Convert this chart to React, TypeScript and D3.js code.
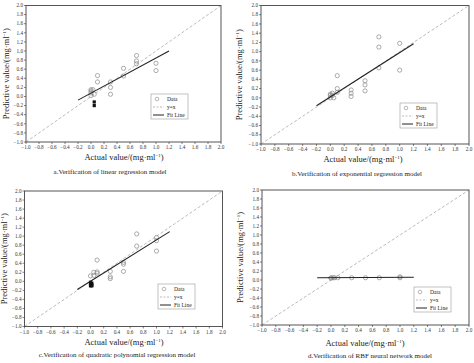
import React from "react";
import * as d3 from "d3";

// ---- data ----
const tickValues = [-1.0, -0.8, -0.6, -0.4, -0.2, 0.0, 0.2, 0.4, 0.6, 0.8, 1.0, 1.2, 1.4, 1.6, 1.8, 2.0];

const aActual = [0.0, 0.0, 0.0, 0.0, 0.03, 0.05, 0.1, 0.1, 0.3, 0.3, 0.3, 0.5, 0.5, 0.7, 0.7, 0.7, 1.0, 1.0];
const aPredicted = [0.15, 0.12, 0.08, 0.02, 0.15, 0.05, 0.46, 0.32, 0.32, 0.2, 0.05, 0.62, 0.45, 0.9, 0.78, 0.72, 0.73, 0.57];
const aFilledActual = [0.05, 0.05];
const aFilledPredicted = [-0.12, -0.2];
const aFit = [[-0.2, -0.08], [1.2, 1.0]];

const bActual = [0.0, 0.0, 0.0, 0.03, 0.03, 0.05, 0.1, 0.1, 0.1, 0.3, 0.3, 0.3, 0.5, 0.5, 0.5, 0.7, 0.7, 0.7, 1.0, 1.0];
const bPredicted = [0.05, 0.0, 0.08, 0.1, 0.05, 0.0, 0.48, 0.2, 0.12, 0.17, 0.1, 0.03, 0.37, 0.28, 0.15, 1.32, 1.1, 0.65, 1.18, 0.6];
const bFilledActual: number[] = [];
const bFilledPredicted: number[] = [];
const bFit = [[-0.2, -0.17], [1.2, 1.17]];

const cActual = [0.0, 0.05, 0.05, 0.1, 0.1, 0.1, 0.3, 0.3, 0.3, 0.5, 0.5, 0.5, 0.7, 0.7, 1.0, 1.0, 1.0];
const cPredicted = [0.12, 0.2, 0.13, 0.47, 0.21, 0.18, 0.22, 0.1, 0.06, 0.42, 0.38, 0.22, 1.05, 0.78, 0.97, 0.9, 0.67];
const cFilledActual = [0.0, 0.02, 0.0, 0.02, 0.0, 0.02];
const cFilledPredicted = [-0.02, -0.04, -0.06, -0.08, -0.1, -0.1];
const cFit = [[-0.2, -0.18], [1.2, 1.1]];

const dActual = [0.0, 0.0, 0.03, 0.05, 0.1, 0.3, 0.5, 0.7, 1.0, 1.0];
const dPredicted = [0.05, 0.04, 0.05, 0.05, 0.05, 0.05, 0.05, 0.05, 0.07, 0.05];
const dFilledActual: number[] = [];
const dFilledPredicted: number[] = [];
const dFit = [[-0.2, 0.05], [1.2, 0.06]];

const captions = [
  "a.Verification of linear regression model",
  "b.Verification of exponential regression model",
  "c.Verification of quadratic polynomial regression model",
  "d.Verification of RBF neural network model",
];
const legendLabels = ["Data", "y=x", "Fit Line"];

// ---- layout ----
const layouts = [
  { l: 26, t: 5.5, r: 221, b: 142, xl: 124, xlY: 160, cap: 110, capY: 174, ylX: 9, lgX: 151, lgY: 94 },
  { l: 261, t: 5.5, r: 469, b: 144, xl: 363, xlY: 162, cap: 357, capY: 176, ylX: 242, lgX: 400, lgY: 103 },
  { l: 24.5, t: 191, r: 222.5, b: 326.5, xl: 124, xlY: 345, cap: 117, capY: 357, ylX: 7, lgX: 158, lgY: 284 },
  { l: 262, t: 190, r: 469, b: 325, xl: 365, xlY: 346, cap: 370, capY: 358, ylX: 243, lgX: 414, lgY: 287 },
];

const FONT = "'Liberation Serif', 'DejaVu Serif', serif";

type PanelProps = {
  idx: number;
  xs: number[];
  ys: number[];
  fxs: number[];
  fys: number[];
  fit: number[][];
};

function Panel({ idx, xs, ys, fxs, fys, fit }: PanelProps) {
  const L = layouts[idx];
  const x = d3.scaleLinear().domain([-1, 2]).range([L.l, L.r]);
  const y = d3.scaleLinear().domain([-1, 2]).range([L.b, L.t]);
  const line = d3.line<number[]>().x((d) => x(d[0])).y((d) => y(d[1]));
  const fmt = d3.format(".1f");
  const yMid = (L.t + L.b) / 2;
  return (
    <g>
      {/* y=x */}
      <path d={line([[-1, -1], [2, 2]]) || ""} stroke="#aaa" strokeWidth={0.8} strokeDasharray="3,2" fill="none" />
      {/* frame */}
      <rect x={L.l} y={L.t} width={L.r - L.l} height={L.b - L.t} fill="none" stroke="#555" strokeWidth={1} />
      {/* ticks */}
      {tickValues.map((v) => (
        <g key={"x" + v}>
          <line x1={x(v)} x2={x(v)} y1={L.b} y2={L.b + 2} stroke="#333" strokeWidth={0.6} />
          <text x={x(v)} y={L.b + 7} fontSize={5.2} textAnchor="middle" fontFamily={FONT} fill="#333">
            {fmt(v).replace("-", "−")}
          </text>
        </g>
      ))}
      {tickValues.map((v) => (
        <g key={"y" + v}>
          <line x1={L.l - 2} x2={L.l} y1={y(v)} y2={y(v)} stroke="#333" strokeWidth={0.6} />
          <text x={L.l - 3} y={y(v) + 1.7} fontSize={5.2} textAnchor="end" fontFamily={FONT} fill="#333">
            {fmt(v).replace("-", "−")}
          </text>
        </g>
      ))}
      {/* data circles */}
      {xs.map((v, i) => (
        <circle key={"c" + i} cx={x(v)} cy={y(ys[i])} r={2.1} fill="none" stroke="#888" strokeWidth={0.7} />
      ))}
      {fxs.map((v, i) => (
        <rect key={"f" + i} x={x(v) - 1.6} y={y(fys[i]) - 1.6} width={3.2} height={3.2} fill="#111" />
      ))}
      {/* fit line */}
      <path d={line(fit) || ""} stroke="#222" strokeWidth={1.1} fill="none" />
      {/* legend */}
      <g transform={`translate(${L.lgX},${L.lgY})`}>
        <rect x={0} y={0} width={37} height={25} fill="white" stroke="#999" strokeWidth={0.6} />
        <circle cx={6} cy={5} r={1.8} fill="none" stroke="#888" strokeWidth={0.6} />
        <line x1={2} x2={13} y1={13} y2={13} stroke="#aaa" strokeWidth={0.8} strokeDasharray="2,1.5" />
        <line x1={2} x2={13} y1={21} y2={21} stroke="#222" strokeWidth={1} />
        {legendLabels.map((t, i) => (
          <text key={t} x={16} y={6.8 + i * 8} fontSize={5.5} fontFamily={FONT} fill="#222">
            {t}
          </text>
        ))}
      </g>
      {/* axis titles */}
      <text x={L.xl} y={L.xlY} fontSize={8.5} textAnchor="middle" fontFamily={FONT} fill="#222">
        Actual value/(mg·ml<tspan fontSize={5} dy={-3}>−1</tspan><tspan dy={3}>)</tspan>
      </text>
      <text
        transform={`translate(${L.ylX},${yMid}) rotate(-90)`}
        fontSize={8.5}
        textAnchor="middle"
        fontFamily={FONT}
        fill="#222"
      >
        Predictive value/(mg·ml<tspan fontSize={5} dy={-3}>−1</tspan><tspan dy={3}>)</tspan>
      </text>
      <text x={L.cap} y={L.capY} fontSize={7} textAnchor="middle" fontFamily={FONT} fill="#222">
        {captions[idx]}
      </text>
    </g>
  );
}

export default function App() {
  return (
    <svg width={474} height={363} style={{ position: "absolute", left: 0, top: 0, background: "white" }}>
      <rect width={474} height={363} fill="white" />
      <Panel idx={0} xs={aActual} ys={aPredicted} fxs={aFilledActual} fys={aFilledPredicted} fit={aFit} />
      <Panel idx={1} xs={bActual} ys={bPredicted} fxs={bFilledActual} fys={bFilledPredicted} fit={bFit} />
      <Panel idx={2} xs={cActual} ys={cPredicted} fxs={cFilledActual} fys={cFilledPredicted} fit={cFit} />
      <Panel idx={3} xs={dActual} ys={dPredicted} fxs={dFilledActual} fys={dFilledPredicted} fit={dFit} />
    </svg>
  );
}
